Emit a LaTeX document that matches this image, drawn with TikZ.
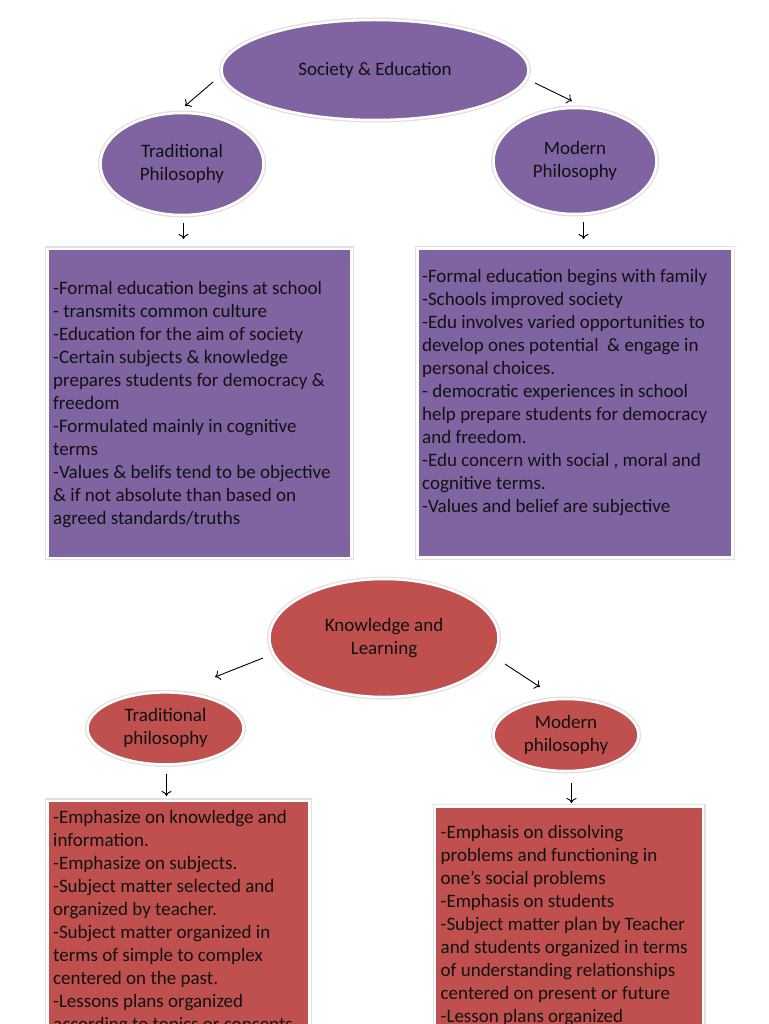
\documentclass[tikz,border=0pt]{standalone}
\usepackage{fontspec}
\setmainfont{Carlito}
\usetikzlibrary{shapes.geometric,arrows.meta}
\definecolor{purp}{HTML}{8064A2}
\definecolor{redd}{HTML}{C0504D}
\definecolor{txt}{HTML}{111111}
\begin{document}
\begin{tikzpicture}[x=1pt,y=-1pt,
  halo/.style={preaction={draw=black!12, line width=5pt}},
  bub/.style={ellipse, halo, fill=#1, draw=white, line width=2.5pt, inner sep=0pt,
    text=txt, font=\fontsize{19}{23}\selectfont, align=center},
  panel/.style={rectangle, halo, fill=#1, draw=white, line width=2.5pt, inner sep=0pt},
  body/.style={anchor=north west, inner sep=0pt, align=left, text=txt,
    font=\fontsize{19}{23}\selectfont},
  arr/.style={-{To[length=5pt,width=10pt]}, line width=0.9pt, black}]
\useasboundingbox (0,0) rectangle (768,1024);
\clip (0,0) rectangle (768,1024);
\fill[white] (0,0) rectangle (768,1024);

% ---------- Society & Education ----------
\node[bub=purp, minimum width=307pt, minimum height=100pt] (soc) at (375,70) {Society \& Education};
\node[bub=purp, minimum width=163pt, minimum height=102pt] (tp) at (182,164) {Traditional\\Philosophy};
\node[bub=purp, minimum width=163pt, minimum height=106pt] (mp) at (575,161) {Modern\\Philosophy};

\node[panel=purp, minimum width=304pt, minimum height=309pt] (tpbox) at (199.3,403.3) {};
\node[panel=purp, minimum width=315pt, minimum height=309pt] (mpbox) at (575,403) {};

\node[body] (tptext) at (53,277.9) {\strut-Formal education begins at school\\
- transmits common culture\\
-Education for the aim of society\\
-Certain subjects \& knowledge\\
prepares students for democracy \&\\
freedom\\
-Formulated mainly in cognitive\\
terms\\
-Values \& belifs tend to be objective\\
\& if not absolute than based on\\
agreed standards/truths};

\node[body] (mptext) at (422,265.9) {\strut-Formal education begins with family\\
-Schools improved society\\
-Edu involves varied opportunities to\\
develop ones potential \ \& engage in\\
personal choices.\\
- democratic experiences in school\\
help prepare students for democracy\\
and freedom.\\
-Edu concern with social , moral and\\
cognitive terms.\\
-Values and belief are subjective};

\coordinate (a1s) at (213,82);   \coordinate (a1e) at (185,106);
\coordinate (a2s) at (535,83);   \coordinate (a2e) at (572,101);
\coordinate (a3s) at (183.5,223); \coordinate (a3e) at (183.5,239);
\coordinate (a4s) at (583.5,222); \coordinate (a4e) at (583.5,239);
\draw[arr] (a1s) -- (a1e);
\draw[arr] (a2s) -- (a2e);
\draw[arr] (a3s) -- (a3e);
\draw[arr] (a4s) -- (a4e);

% ---------- Knowledge and Learning ----------
\node[bub=redd, minimum width=229pt, minimum height=118pt] (kl) at (384,638) {Knowledge and\\Learning};
\node[bub=redd, minimum width=156pt, minimum height=72pt] (tl) at (165.5,728.4) {Traditional\\philosophy};
\node[bub=redd, minimum width=145pt, minimum height=72pt] (ml) at (566,735) {Modern\\philosophy};

\node[panel=redd, anchor=north, minimum width=262pt, minimum height=400pt] (tlbox) at (178.3,799.5) {};
\node[panel=redd, anchor=north, minimum width=268pt, minimum height=400pt] (mlbox) at (569,805.2) {};

\node[body] (tltext) at (53,807.2) {\strut-Emphasize on knowledge and\\
information.\\
-Emphasize on subjects.\\
-Subject matter selected and\\
organized by teacher.\\
-Subject matter organized in\\
terms of simple to complex\\
centered on the past.\\
-Lessons plans organized\\
according to topics or concepts};

\node[body] (mltext) at (440.5,822.2) {\strut-Emphasis on dissolving\\
problems and functioning in\\
one’s social problems\\
-Emphasis on students\\
-Subject matter plan by Teacher\\
and students organized in terms\\
of understanding relationships\\
centered on present or future\\
-Lesson plans organized};

\coordinate (b1s) at (263,658);   \coordinate (b1e) at (215,677);
\coordinate (b2s) at (505,664);   \coordinate (b2e) at (540,687);
\coordinate (b3s) at (166.5,774); \coordinate (b3e) at (166.5,796);
\coordinate (b4s) at (571.5,783); \coordinate (b4e) at (571.5,803);
\draw[arr] (b1s) -- (b1e);
\draw[arr] (b2s) -- (b2e);
\draw[arr] (b3s) -- (b3e);
\draw[arr] (b4s) -- (b4e);
\end{tikzpicture}
\end{document}
